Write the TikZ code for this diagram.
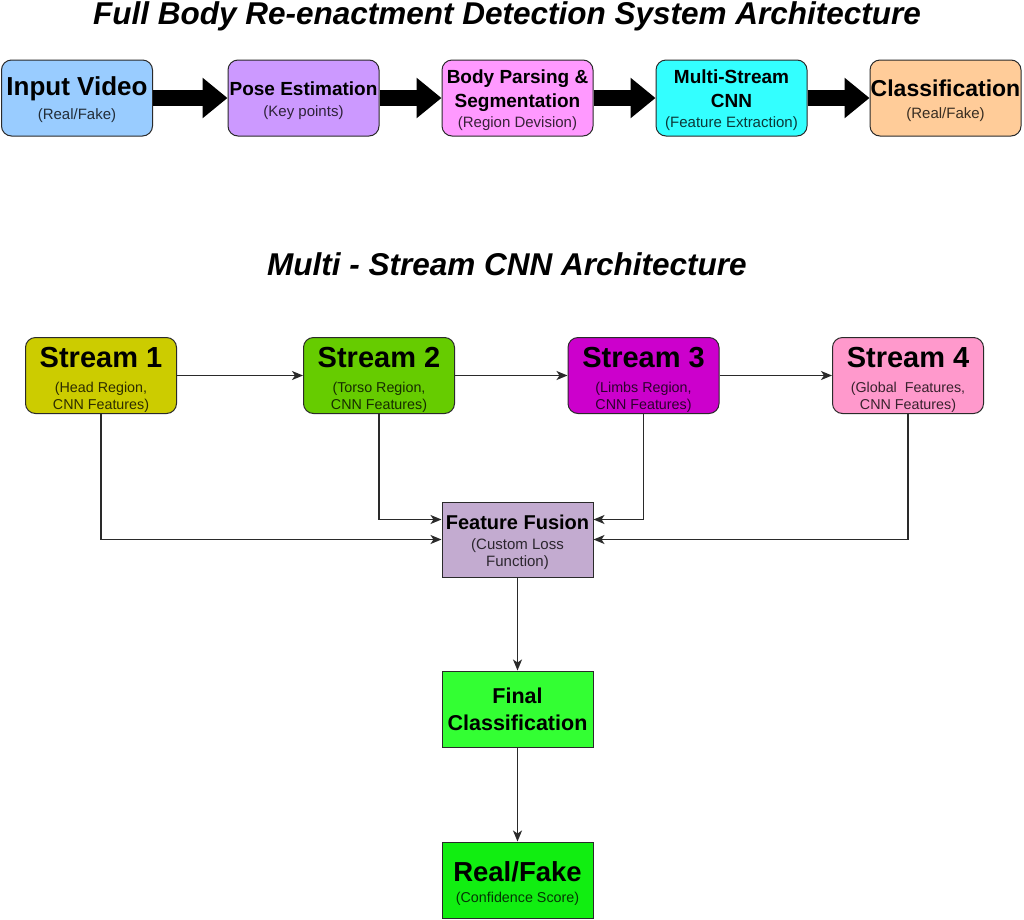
\documentclass[tikz,border=0pt]{standalone}
\usepackage{fontspec}
\setmainfont{Liberation Sans}
\usetikzlibrary{arrows.meta}
\definecolor{cInput}{HTML}{99CCFF}
\definecolor{cPose}{HTML}{CC99FF}
\definecolor{cBody}{HTML}{FF99FF}
\definecolor{cMulti}{HTML}{33FFFF}
\definecolor{cClass}{HTML}{FFCC99}
\definecolor{cSa}{HTML}{CCCC00}
\definecolor{cSb}{HTML}{66CC00}
\definecolor{cSc}{HTML}{CC00CC}
\definecolor{cSd}{HTML}{FF99CC}
\definecolor{cFuse}{HTML}{C3ABD0}
\definecolor{cFinal}{HTML}{33FF33}
\definecolor{cReal}{HTML}{11EE11}
\definecolor{edge}{HTML}{2A2A2A}
\tikzset{
  box/.style={draw=edge, line width=1pt, minimum width=151pt, minimum height=76pt,
    inner sep=0pt, rounded corners=10pt},
  sqbox/.style={draw=edge, line width=1pt, minimum width=151pt, minimum height=76pt,
    inner sep=0pt},
  txt/.style={anchor=base, inner sep=0pt},
  main/.style={txt, font=\bfseries\fontsize{#1}{#1}\selectfont},
  sub/.style={txt, text=#1!22!black, font=\fontsize{15}{15}\selectfont},
  subs/.style={txt, text=#1!22!black, font=\fontsize{14.3}{14.3}\selectfont},
  bigarrow/.style={line width=16pt, -{Triangle[length=25pt,width=39pt]}},
  thin/.style={draw=edge, line width=1.2pt, -{Stealth[length=11pt,width=9pt,inset=3pt]}},
  title/.style={anchor=base, inner sep=0pt, font=\bfseries\itshape\fontsize{31.5}{34}\selectfont}
}
\begin{document}
\begin{tikzpicture}[x=1pt,y=-1pt]
\useasboundingbox[fill=white] (0,0) rectangle (1024,919);
% titles
\node[title] (t1) at (507,24.5) {Full Body Re-enactment Detection System Architecture};
\node[title] (t2) at (507,275) {Multi - Stream CNN Architecture};
% top row boxes
\node[box, fill=cInput] (in) at (77,98) {};
\node[box, fill=cPose] (pose) at (303.5,98) {};
\node[box, fill=cBody] (body) at (517.5,98) {};
\node[box, fill=cMulti] (multi) at (731.5,98) {};
\node[box, fill=cClass] (cls) at (945.5,98) {};
\node[main=26] (in1) at (77,95) {Input Video};
\node[sub=cInput] (in2) at (77,119) {(Real/Fake)};
\node[main=19] (pose1) at (303.5,95.5) {Pose Estimation};
\node[sub=cPose] (pose2) at (303.5,116) {(Key points)};
\node[main=19] (body1) at (517.5,83.5) {Body Parsing \&};
\node[main=19] (body2) at (517.5,107) {Segmentation};
\node[sub=cBody] (body3) at (517.5,127) {(Region Devision)};
\node[main=19] (multi1) at (731.5,83.5) {Multi-Stream};
\node[main=19] (multi2) at (731.5,107) {CNN};
\node[sub=cMulti] (multi3) at (731.5,127) {(Feature Extraction)};
\node[main=23] (cls1) at (945.5,96) {Classification};
\node[sub=cClass] (cls2) at (945.5,118.5) {(Real/Fake)};
\draw[bigarrow] (in.east) -- (pose.west);
\draw[bigarrow] (pose.east) -- (body.west);
\draw[bigarrow] (body.east) -- (multi.west);
\draw[bigarrow] (multi.east) -- (cls.west);
% streams
\node[box, fill=cSa] (s1) at (101,375.5) {};
\node[box, fill=cSb] (s2) at (379,375.5) {};
\node[box, fill=cSc] (s3) at (643.5,375.5) {};
\node[box, fill=cSd] (s4) at (908,375.5) {};
\node[main=29] (s1a) at (101,367.5) {Stream 1};
\node[subs=cSa] (s1b) at (101,392.5) {(Head Region,};
\node[subs=cSa] (s1c) at (101,409.5) {CNN Features)};
\node[main=29] (s2a) at (379,367.5) {Stream 2};
\node[subs=cSb] (s2b) at (379,392.5) {(Torso Region,};
\node[subs=cSb] (s2c) at (379,409.5) {CNN Features)};
\node[main=29] (s3a) at (643.5,367.5) {Stream 3};
\node[subs=cSc] (s3b) at (643.5,392.5) {(Limbs Region,};
\node[subs=cSc] (s3c) at (643.5,409.5) {CNN Features)};
\node[main=29] (s4a) at (908,367.5) {Stream 4};
\node[subs=cSd] (s4b) at (908,392.5) {(Global\ \ Features,};
\node[subs=cSd] (s4c) at (908,409.5) {CNN Features)};
\draw[thin] (s1) -- (s2);
\draw[thin] (s2) -- (s3);
\draw[thin] (s3) -- (s4);
% fusion
\node[sqbox, fill=cFuse, minimum height=75pt] (ff) at (517.5,539.5) {};
\node[main=20] (ff1) at (517.5,529.5) {Feature Fusion};
\node[sub=cFuse] (ff2) at (517.5,549) {(Custom Loss};
\node[sub=cFuse] (ff3) at (517.5,566) {Function)};
\path (ff.west) ++(0,-20) coordinate (ffwu);
\path (ff.east) ++(0,-20) coordinate (ffeu);
\draw[thin] (s1.south) |- (ff.west);
\draw[thin] (s4.south) |- (ff.east);
\draw[thin] (s2.south) |- (ffwu);
\draw[thin] (s3.south) |- (ffeu);
% final
\node[sqbox, fill=cFinal] (fin) at (517.5,709) {};
\node[main=21.5] (fin1) at (517.5,703) {Final};
\node[main=21.5] (fin2) at (517.5,730) {Classification};
\node[sqbox, fill=cReal] (rf) at (517.5,880) {};
\node[main=27.5] (rf1) at (517.5,881) {Real/Fake};
\node[subs=cReal] (rf2) at (517.5,902.5) {(Confidence Score)};
\draw[thin] (ff) -- (fin);
\draw[thin] (fin) -- (rf);
\end{tikzpicture}
\end{document}
